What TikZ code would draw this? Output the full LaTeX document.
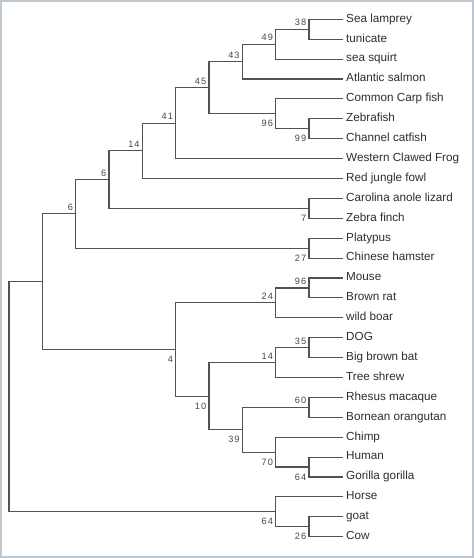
\documentclass[tikz,border=0pt]{standalone}
\usepackage{fontspec}
\setmainfont{Liberation Sans}
\newfontfamily\digfont[LetterSpace=12]{Liberation Sans}
\begin{document}
\begin{tikzpicture}[x=1pt,y=-1pt,
  branch/.style={draw=black!68,line width=1.15pt,line cap=rect},
  leaflab/.style={anchor=west,inner sep=0pt,text=black!82,font=\fontsize{11.7}{14}\selectfont},
  uplab/.style={anchor=base east,inner sep=0pt,text=black!72,font=\digfont\fontsize{9.2}{11}\selectfont},
  ]
\useasboundingbox (0,0) rectangle (474,558);
\fill[white] (0,0) rectangle (474,558);
\draw[draw={rgb,255:red,190;green,199;blue,207},line width=2.4pt] (1.2,1.2) rectangle (472.8,556.8);
% leaf ends
\foreach \i/\y/\t in {0/19.3/Sea lamprey,1/39.2/tunicate,2/59.1/sea squirt,3/79.0/Atlantic salmon,
  4/98.9/Common Carp fish,5/118.8/Zebrafish,6/138.7/Channel catfish,7/158.6/Western Clawed Frog,
  8/178.5/Red jungle fowl,9/198.4/Carolina anole lizard,10/218.3/Zebra finch,11/238.2/Platypus,
  12/258.1/Chinese hamster,13/278.0/Mouse,14/297.9/Brown rat,15/317.8/wild boar,16/337.7/DOG,
  17/357.6/Big brown bat,18/377.5/Tree shrew,19/397.4/Rhesus macaque,20/417.3/Bornean  orangutan,
  21/437.2/Chimp,22/457.1/Human,23/477.0/Gorilla gorilla,24/496.9/Horse,25/516.8/goat,26/536.7/Cow}{
  \coordinate (l\i) at (342,\y);
  \node[leaflab] (t\i) at (346,\y) {\strut\t};
}
% internal nodes
\coordinate (A) at (309,29.25);
\coordinate (B) at (275.7,44.2);
\coordinate (C) at (242.3,61.6);
\coordinate (D) at (309,128.75);
\coordinate (E) at (275.7,113.8);
\coordinate (F) at (209,87.7);
\coordinate (G) at (175.7,123.2);
\coordinate (H) at (142.3,150.8);
\coordinate (I) at (309,208.35);
\coordinate (J) at (109,179.6);
\coordinate (K) at (309,248.15);
\coordinate (L) at (75.7,213.9);
\coordinate (M) at (309,288);
\coordinate (N) at (275.7,302.9);
\coordinate (O) at (309,347.65);
\coordinate (P) at (275.7,362.6);
\coordinate (Q) at (309,407.35);
\coordinate (R) at (309,467.05);
\coordinate (S) at (275.7,452.1);
\coordinate (T) at (242.3,429.7);
\coordinate (U) at (209,396.2);
\coordinate (V) at (175.7,349.5);
\coordinate (W) at (42.3,281.7);
\coordinate (X) at (309,526.75);
\coordinate (Y) at (275.7,511.8);
\coordinate (Z) at (9,396.75);
% branches
\foreach \n/\a/\b in {A/l0/l1,B/A/l2,C/B/l3,D/l5/l6,E/l4/D,F/C/E,G/F/l7,H/G/l8,
  I/l9/l10,J/H/I,K/l11/l12,L/J/K,M/l13/l14,N/M/l15,O/l16/l17,P/O/l18,Q/l19/l20,
  R/l22/l23,S/l21/R,T/Q/S,U/P/T,V/N/U,W/L/V,X/l25/l26,Y/l24/X,Z/W/Y}{
  \draw[branch] (\a) -| (\n) |- (\b);
}
% bootstrap labels: above for upper children, below for lower children
\foreach \n/\v in {A/38,B/49,C/43,F/45,G/41,H/14,J/6,L/6,M/96,N/24,O/35,P/14,Q/60}{
  \node[uplab] (lab\n) at ([xshift=-2.5pt,yshift=3.6pt]\n) {\v};
}
\foreach \n/\v in {D/99,E/96,I/7,K/27,R/64,S/70,T/39,U/10,V/4,X/26,Y/64}{
  \node[uplab] (lab\n) at ([xshift=-2.5pt,yshift=-13pt]\n) {\v};
}
\end{tikzpicture}
\end{document}
